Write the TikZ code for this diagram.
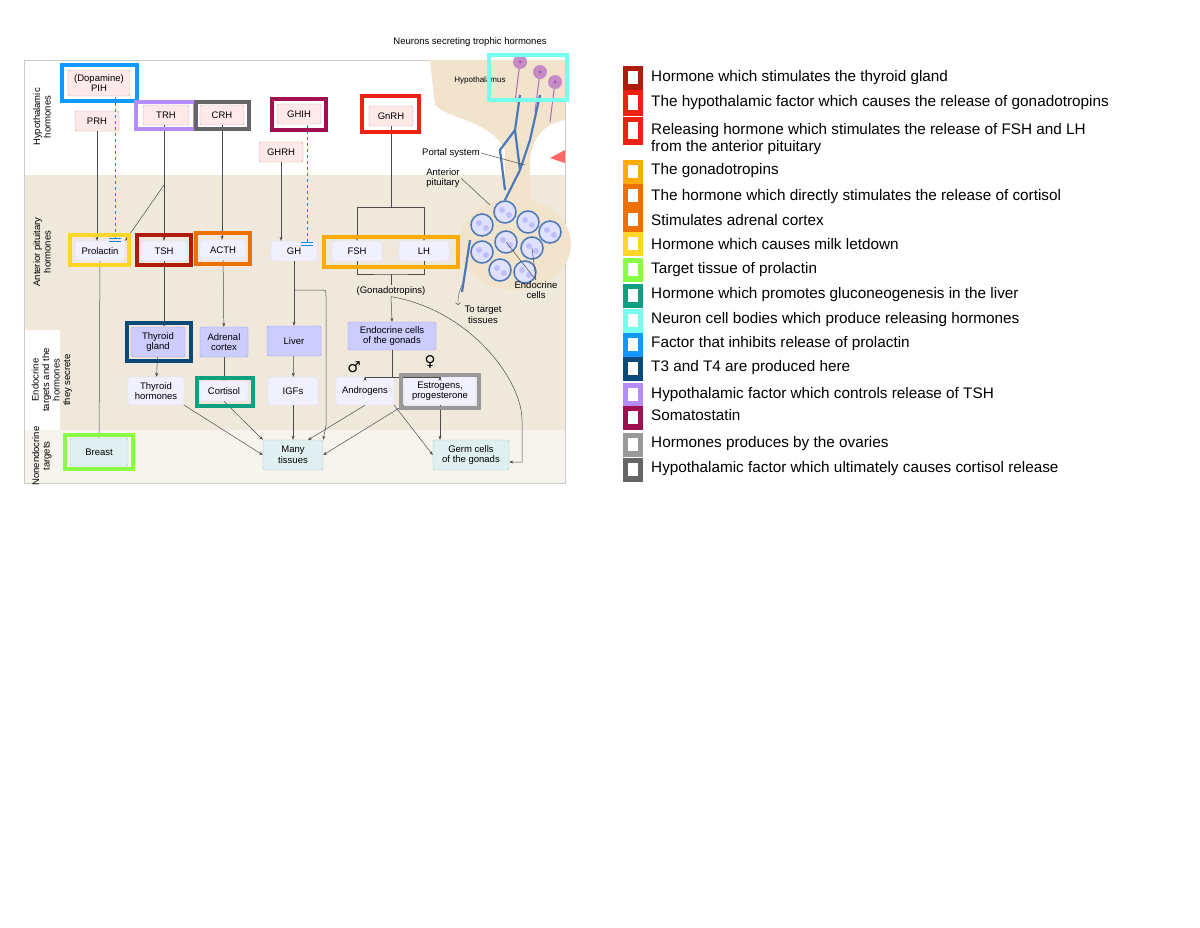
\documentclass[tikz,border=0pt]{standalone}
\usepackage{fontspec}
\setmainfont{Liberation Sans}
\newfontfamily\symfont{DejaVu Sans}
\usetikzlibrary{arrows.meta}
\definecolor{cDR}{HTML}{B01C0C}\definecolor{cR}{HTML}{EE2211}\definecolor{cO}{HTML}{FFAA00}
\definecolor{cOr}{HTML}{EE7000}\definecolor{cY}{HTML}{FFD52A}\definecolor{cG}{HTML}{88FF44}
\definecolor{cT}{HTML}{10A080}\definecolor{cC}{HTML}{77FFEE}\definecolor{cB}{HTML}{1199FF}
\definecolor{cNB}{HTML}{0B4A78}\definecolor{cL}{HTML}{B38CFF}\definecolor{cM}{HTML}{A01050}
\definecolor{cGr}{HTML}{999999}\definecolor{cDG}{HTML}{666666}
\definecolor{beige}{HTML}{EFE8DB}\definecolor{tan}{HTML}{F2E4CC}\definecolor{vess}{HTML}{4A78B8}
\tikzset{
 x=1pt,y=-1pt,
 base/.style={rounded corners=2pt,font=\fontsize{9.5}{10.5}\selectfont,align=center,inner sep=1pt,minimum height=20pt},
 pk/.style={base,fill=pink!35!white,draw=pink!60!gray},
 lv/.style={base,fill=blue!6!white,draw=blue!15!white},
 bl/.style={base,fill=blue!20!white,draw=blue!40!white},
 tl/.style={base,fill=teal!12!white,draw=teal!40!white},
 ar/.style={-{Stealth[length=4pt,width=3pt]},gray!60!black,line width=0.5pt},
 ln/.style={gray!60!black,line width=0.5pt},
 inh/.style={dashed,cyan!70!blue,line width=0.8pt},
 hl/.style={draw=#1,line width=4pt},
 lg/.style={anchor=west,font=\fontsize{15.3}{17}\selectfont,inner sep=0pt},
 side/.style={rotate=90,font=\fontsize{9.5}{10.5}\selectfont,align=center},
 lab/.style={font=\fontsize{9.5}{10.5}\selectfont,align=center,inner sep=1pt}
}
\begin{document}
\begin{tikzpicture}
\useasboundingbox (0,0) rectangle (1200,927);
\fill[white] (0,0) rectangle (1200,927);
% bands
\fill[white] (24,60) rectangle (565,175);
\fill[beige] (24,175) rectangle (565,330);
\fill[white] (24,330) rectangle (565,430);
\fill[beige] (60,330) rectangle (565,430);
\fill[white!50!beige] (24,430) rectangle (565,483);
\draw[gray!40] (24,60) rectangle (565,483);
\node[side] (s1) at (42,117) {Hypothalamic\\hormones};
\node[side] (s2) at (42,252) {Anterior pituitary\\hormones};
\node[side] (s3) at (52,380) {Endocrine\\targets and the\\hormones\\they secrete};
\node[side] (s4) at (42,456) {Nonendocrine\\targets};
% anatomy
\fill[tan] (430,60) -- (565,60) -- (565,120) .. controls (540,125) and (530,140) .. (528,175)
  -- (505,190) -- (505,150) .. controls (490,120) and (450,120) .. (435,105) -- cycle;
\fill[tan] (515,244) ellipse (56 and 46);
\fill[tan] (505,150) rectangle (530,200);
\foreach \cx/\cy in {482/225, 505/212, 528/222, 482/252, 506/242, 532/248, 550/232, 500/270, 525/272}
  {\draw[vess,line width=1.5pt,fill=blue!12!white] (\cx,\cy) circle (11);
   \fill[blue!25!white] (\cx-3,\cy-2) circle (3) (\cx+4,\cy+3) circle (3);}
\draw[vess,line width=2.2pt] (520,95) -- (515,130) -- (520,170) -- (505,200) (540,95) -- (530,140) -- (520,170)
  (515,130) -- (500,150) -- (505,190) (470,240) -- (462,292);
\draw[->,gray!60!black] (462,285) .. controls (458,295) .. (458,305);
\foreach \cx/\cy in {520/62, 540/72, 555/82}
  {\draw[violet!60,line width=1pt] (\cx,\cy) -- (\cx-5,\cy+40); \fill[violet!45] (\cx,\cy) circle (7); \fill[violet!70] (\cx,\cy) circle (1.5);}
\fill[red!60] (565,150) -- (550,158) -- (565,163) -- cycle;
\node[lab,font=\fontsize{8}{9}\selectfont] (hyp) at (480,80) {Hypothalamus};
\node[lab] (ntr) at (470,42) {Neurons secreting trophic hormones};
\node[lab] (port) at (451,153) {Portal system};
\node[lab] (antp) at (443,178) {Anterior\\pituitary};
\node[lab] (endc) at (536,290) {Endocrine\\cells};
\node[lab] (tgt) at (483,315) {To target\\tissues};
\draw[ln] (port.east) -- (525,165);
\draw[ln] (antp.east) -- (490,205);
\draw[ln] (endc.north) -- (506,242) (endc.north) -- (532,248);
% nodes
\node[pk,minimum width=62pt,minimum height=26pt] (pih) at (99,83) {(Dopamine)\\PIH};
\node[pk,minimum width=44pt] (prh) at (97,121) {PRH};
\node[pk,minimum width=46pt] (trh) at (166,115) {TRH};
\node[pk,minimum width=44pt] (crh) at (222,115) {CRH};
\node[pk,minimum width=44pt] (ghih) at (299,114) {GHIH};
\node[pk,minimum width=44pt] (ghrh) at (281,152) {GHRH};
\node[pk,minimum width=44pt] (gnrh) at (391,116) {GnRH};
\node[lv,minimum width=50pt] (prl) at (100,251) {Prolactin};
\node[lv,minimum width=46pt] (tsh) at (164,251) {TSH};
\node[lv,minimum width=46pt] (acth) at (223,250) {ACTH};
\node[lv,minimum width=46pt] (gh) at (294,251) {GH};
\node[lv,minimum width=50pt] (fsh) at (357,251) {FSH};
\node[lv,minimum width=50pt] (lh) at (424,251) {LH};
\node[lab] (gon) at (391,291) {(Gonadotropins)};
\node[bl,minimum width=54pt,minimum height=30pt] (thy) at (158,342) {Thyroid\\gland};
\node[bl,minimum width=48pt,minimum height=30pt] (adr) at (224,342) {Adrenal\\cortex};
\node[bl,minimum width=54pt,minimum height=30pt] (liv) at (294,341) {Liver};
\node[bl,minimum width=88pt,minimum height=28pt] (egon) at (392,336) {Endocrine cells\\of the gonads};
\node[lab,font=\symfont\fontsize{15}{15}\selectfont] (male) at (354,367) {♂};
\node[lab,font=\symfont\fontsize{15}{15}\selectfont] (fem) at (430,362) {♀};
\node[lv,minimum width=56pt,minimum height=28pt] (thh) at (156,391) {Thyroid\\hormones};
\node[lv,minimum width=48pt] (cort) at (224,391) {Cortisol};
\node[lv,minimum width=50pt,minimum height=28pt] (igf) at (293,391) {IGFs};
\node[lv,minimum width=58pt,minimum height=28pt] (andr) at (365,391) {Androgens};
\node[lv,minimum width=72pt,minimum height=28pt] (estr) at (440,391) {Estrogens,\\progesterone};
\node[tl,minimum width=58pt,minimum height=28pt] (brst) at (99,452) {Breast};
\node[tl,minimum width=60pt,minimum height=30pt] (many) at (293,455) {Many\\tissues};
\node[tl,minimum width=76pt,minimum height=30pt] (germ) at (471,455) {Germ cells\\of the gonads};
% connectors
\draw[ar] (prh) -- (prl.north -| prh);
\draw[inh] (115,97) -- (115,238);
\draw[cyan!70!blue,line width=0.8pt] (109,238) -- (121,238) (109,241) -- (121,241);
\draw[ar] (trh.south -| tsh) -- (tsh);
\draw[ar] (164,185) -- (prl.north east);
\draw[ar] (crh) -- (acth.north -| crh);
\draw[ar] (ghrh) -- (gh.north -| ghrh);
\draw[inh] (307,125) -- (307,242);
\draw[cyan!70!blue,line width=0.8pt] (301,242) -- (313,242) (301,245) -- (313,245);
\draw[ln] (gnrh) -- (391,207);
\draw[ar] (391,207) -| (fsh.north);
\draw[ar] (391,207) -| (lh.north);
\draw[ln] (fsh.south) |- (391,274) -| (lh.south);
\draw[ln] (391,274) -- (gon.north);
\draw[ar] (gon.south) -- (egon.north);
\draw[ar] (gon.south) .. controls (470,310) and (522,380) .. (522,420) -- (522,462) -- (germ.east |- 0,462);
\draw[ar] (tsh) -- (tsh |- thy.north);
\draw[ar] (acth) -- (adr);
\draw[ar] (gh) -- (liv);
\draw[ar] (294,290) -- (320,290) .. controls (326,290) .. (326,296) -- (326,425) -- (many.north east);
\draw[ar] (thy) -- (thh);
\draw[ar] (adr) -- (cort);
\draw[ar] (liv) -- (igf);
\draw[ln] (egon.south) -- (392,377);
\draw[ar] (392,377) -| (andr.north);
\draw[ar] (392,377) -| (estr.north);
\draw[ar] (prl) -- (brst);
\draw[ar] (thh.south east) -- (many.west);
\draw[ar] (cort.south) -- (many.north west);
\draw[ar] (igf) -- (many);
\draw[ar] (andr.south) -- (308,440);
\draw[ar] (estr.south west) -- (many.east);
\draw[ar] (andr.south east) -- (germ.west);
\draw[ar] (estr.south) -- (germ.north -| estr);
% highlight frames
\draw[hl=cB] (62,65) rectangle (137,101);
\draw[hl=cL] (136,102) rectangle (195,129);
\draw[hl=cDG] (196,102) rectangle (249,129);
\draw[hl=cM] (272,99) rectangle (326,130);
\draw[hl=cR] (362,96) rectangle (419,132);
\draw[hl=cC] (489,55) rectangle (567,100);
\draw[hl=cY] (70,235) rectangle (129,265);
\draw[hl=cDR] (137,235) rectangle (191,265);
\draw[hl=cOr] (196,233) rectangle (250,264);
\draw[hl=cO] (324,237) rectangle (458,267);
\draw[hl=cNB] (127,323) rectangle (191,361);
\draw[hl=cT] (197,378) rectangle (253,406);
\draw[hl=cGr] (401,375) rectangle (479,408);
\draw[hl=cG] (65,435) rectangle (133,469);
% legend
\foreach \y/\h/\c in {66/24/cDR, 90/26/cR, 117/28/cR, 160/24/cO, 184/24/cOr, 208/24/cOr, 232/24/cY, 258/24/cG, 284/24/cT, 309/24/cC, 333/24/cB, 357/24/cNB, 383/24/cL, 406/24/cM, 433/24/cGr, 458/24/cDG}
  {\fill[\c] (623,\y) rectangle (643,\y+\h); \fill[white] (628,\y+5) rectangle (638,\y+\h-6);}
\node[lg] (l1) at (651,78) {Hormone which stimulates the thyroid gland};
\node[lg] (l2) at (651,103) {The hypothalamic factor which causes the release of gonadotropins};
\node[lg,align=left] (l3) at (651,139) {Releasing hormone which stimulates the release of FSH and LH\\from the anterior pituitary};
\node[lg] (l4) at (651,171) {The gonadotropins};
\node[lg] (l5) at (651,197) {The hormone which directly stimulates the release of cortisol};
\node[lg] (l6) at (651,220) {Stimulates adrenal cortex};
\node[lg] (l7) at (651,244) {Hormone which causes milk letdown};
\node[lg] (l8) at (651,270) {Target tissue of prolactin};
\node[lg] (l9) at (651,295) {Hormone which promotes gluconeogenesis in the liver};
\node[lg] (l10) at (651,320) {Neuron cell bodies which produce releasing hormones};
\node[lg] (l11) at (651,344) {Factor that inhibits release of prolactin};
\node[lg] (l12) at (651,368) {T3 and T4 are produced here};
\node[lg] (l13) at (651,395) {Hypothalamic factor which controls release of TSH};
\node[lg] (l14) at (651,415) {Somatostatin};
\node[lg] (l15) at (651,444) {Hormones produces by the ovaries};
\node[lg] (l16) at (651,469) {Hypothalamic factor which ultimately causes cortisol release};
\end{tikzpicture}
\end{document}
